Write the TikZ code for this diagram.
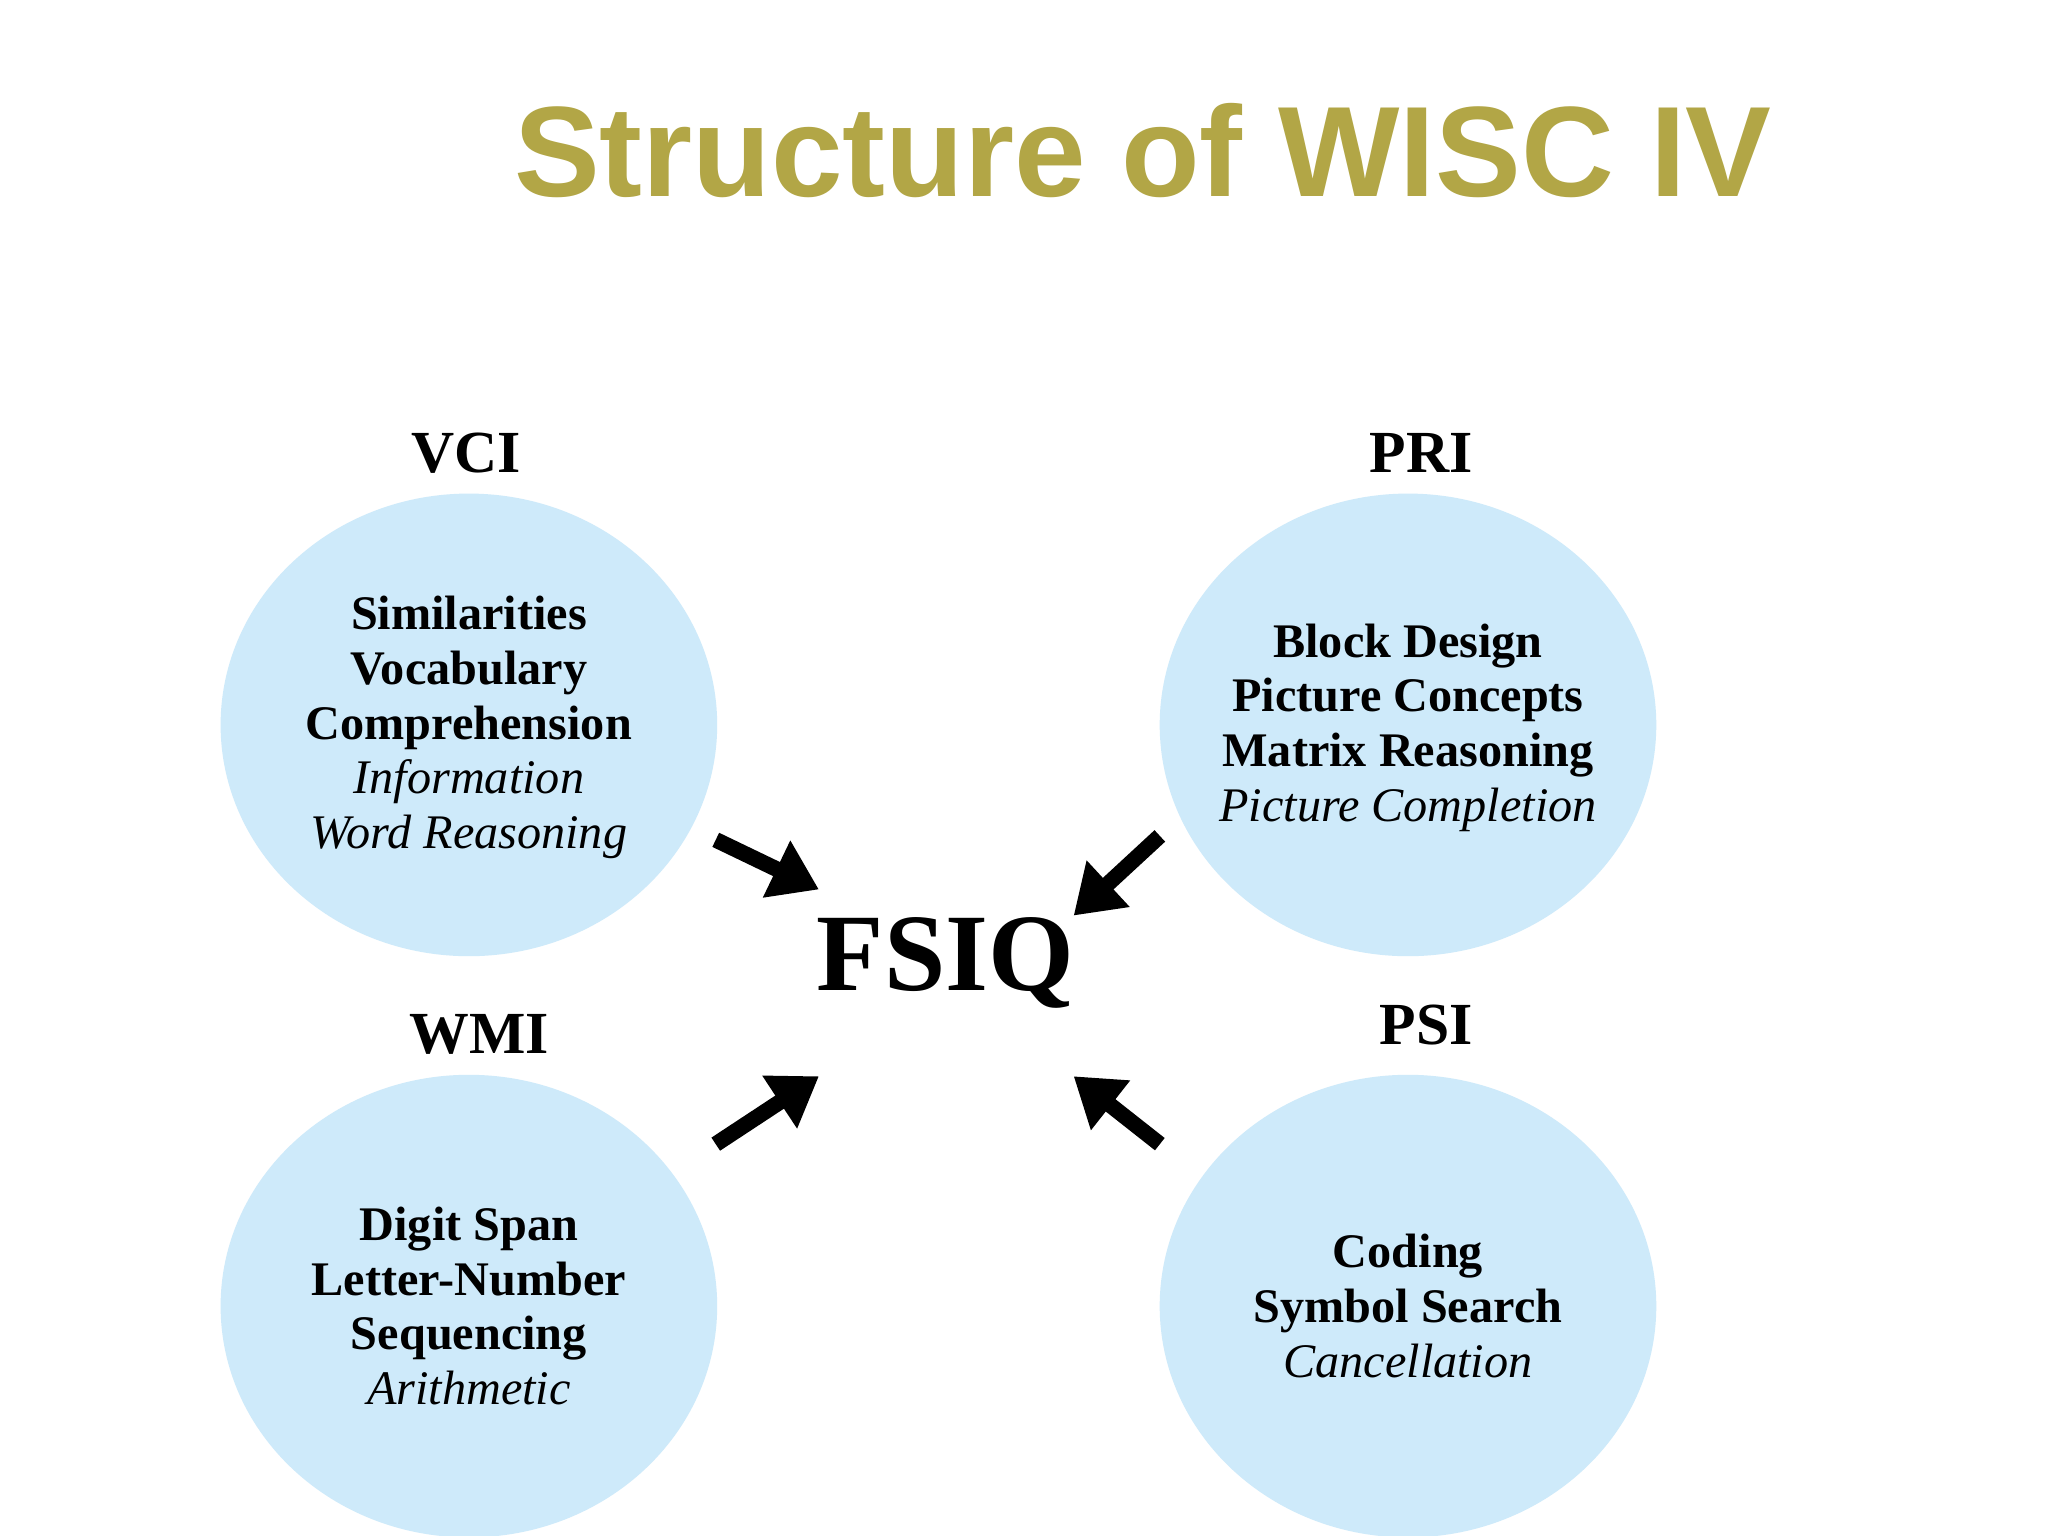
\documentclass[tikz,border=0pt]{standalone}
\usepackage{fontspec}
\setmainfont{Liberation Serif}
\newfontfamily\titlefont{Liberation Sans}
\usetikzlibrary{arrows.meta,shapes.geometric}
\definecolor{olive}{RGB}{178,166,70}
\definecolor{bubble}{RGB}{206,234,250}
\begin{document}
\begin{tikzpicture}[x=0.01cm,y=-0.01cm,
  bub/.style={draw=none,fill=bubble,ellipse,minimum width=3.8cm,minimum height=3.54cm},
  lst/.style={align=center,font=\fontsize{10.5}{11.9}\selectfont\bfseries},
  lab/.style={font=\fontsize{13}{15}\selectfont\bfseries},
  arr/.style={line width=0.12cm,-{Triangle[length=0.36cm,width=0.46cm]}}]
\useasboundingbox (0,0) rectangle (1568,1176);
\fill[white] (0,0) rectangle (1568,1176);
\node[font=\titlefont\fontsize{28}{32}\selectfont\bfseries,text=olive] (title) at (875,115) {Structure of WISC IV};
\node[bub] (vci) at (359,555) {};
\node[bub] (pri) at (1078,555) {};
\node[bub] (wmi) at (359,1000) {};
\node[bub] (psi) at (1078,1000) {};
\node[lst] (vcit) at (359,557) {Similarities\\Vocabulary\\Comprehension\\\textmd{\itshape Information}\\\textmd{\itshape Word Reasoning}};
\node[lst] (prit) at (1078,557) {Block Design\\Picture Concepts\\Matrix Reasoning\\\textmd{\itshape Picture Completion}};
\node[lst] (wmit) at (359,1000) {Digit Span\\Letter-Number\\Sequencing\\\textmd{\itshape Arithmetic}};
\node[lst] (psit) at (1078,1000) {Coding\\Symbol Search\\\textmd{\itshape Cancellation}};
\node[lab] (vcil) at (357,347) {VCI};
\node[lab] (pril) at (1088,347) {PRI};
\node[lab] (wmil) at (367,792) {WMI};
\node[lab] (psil) at (1092,785) {PSI};
\node[font=\fontsize{24}{28}\selectfont\bfseries] (fsiq) at (724,737) {FSIQ};
\coordinate (a1) at (548,643); \coordinate (b1) at (627,681);
\coordinate (a2) at (888,640); \coordinate (b2) at (822,701);
\coordinate (a3) at (548,876); \coordinate (b3) at (627,824);
\coordinate (a4) at (888,876); \coordinate (b4) at (822,824);
\draw[arr] (a1) -- (b1);
\draw[arr] (a2) -- (b2);
\draw[arr] (a3) -- (b3);
\draw[arr] (a4) -- (b4);
\end{tikzpicture}
\end{document}
